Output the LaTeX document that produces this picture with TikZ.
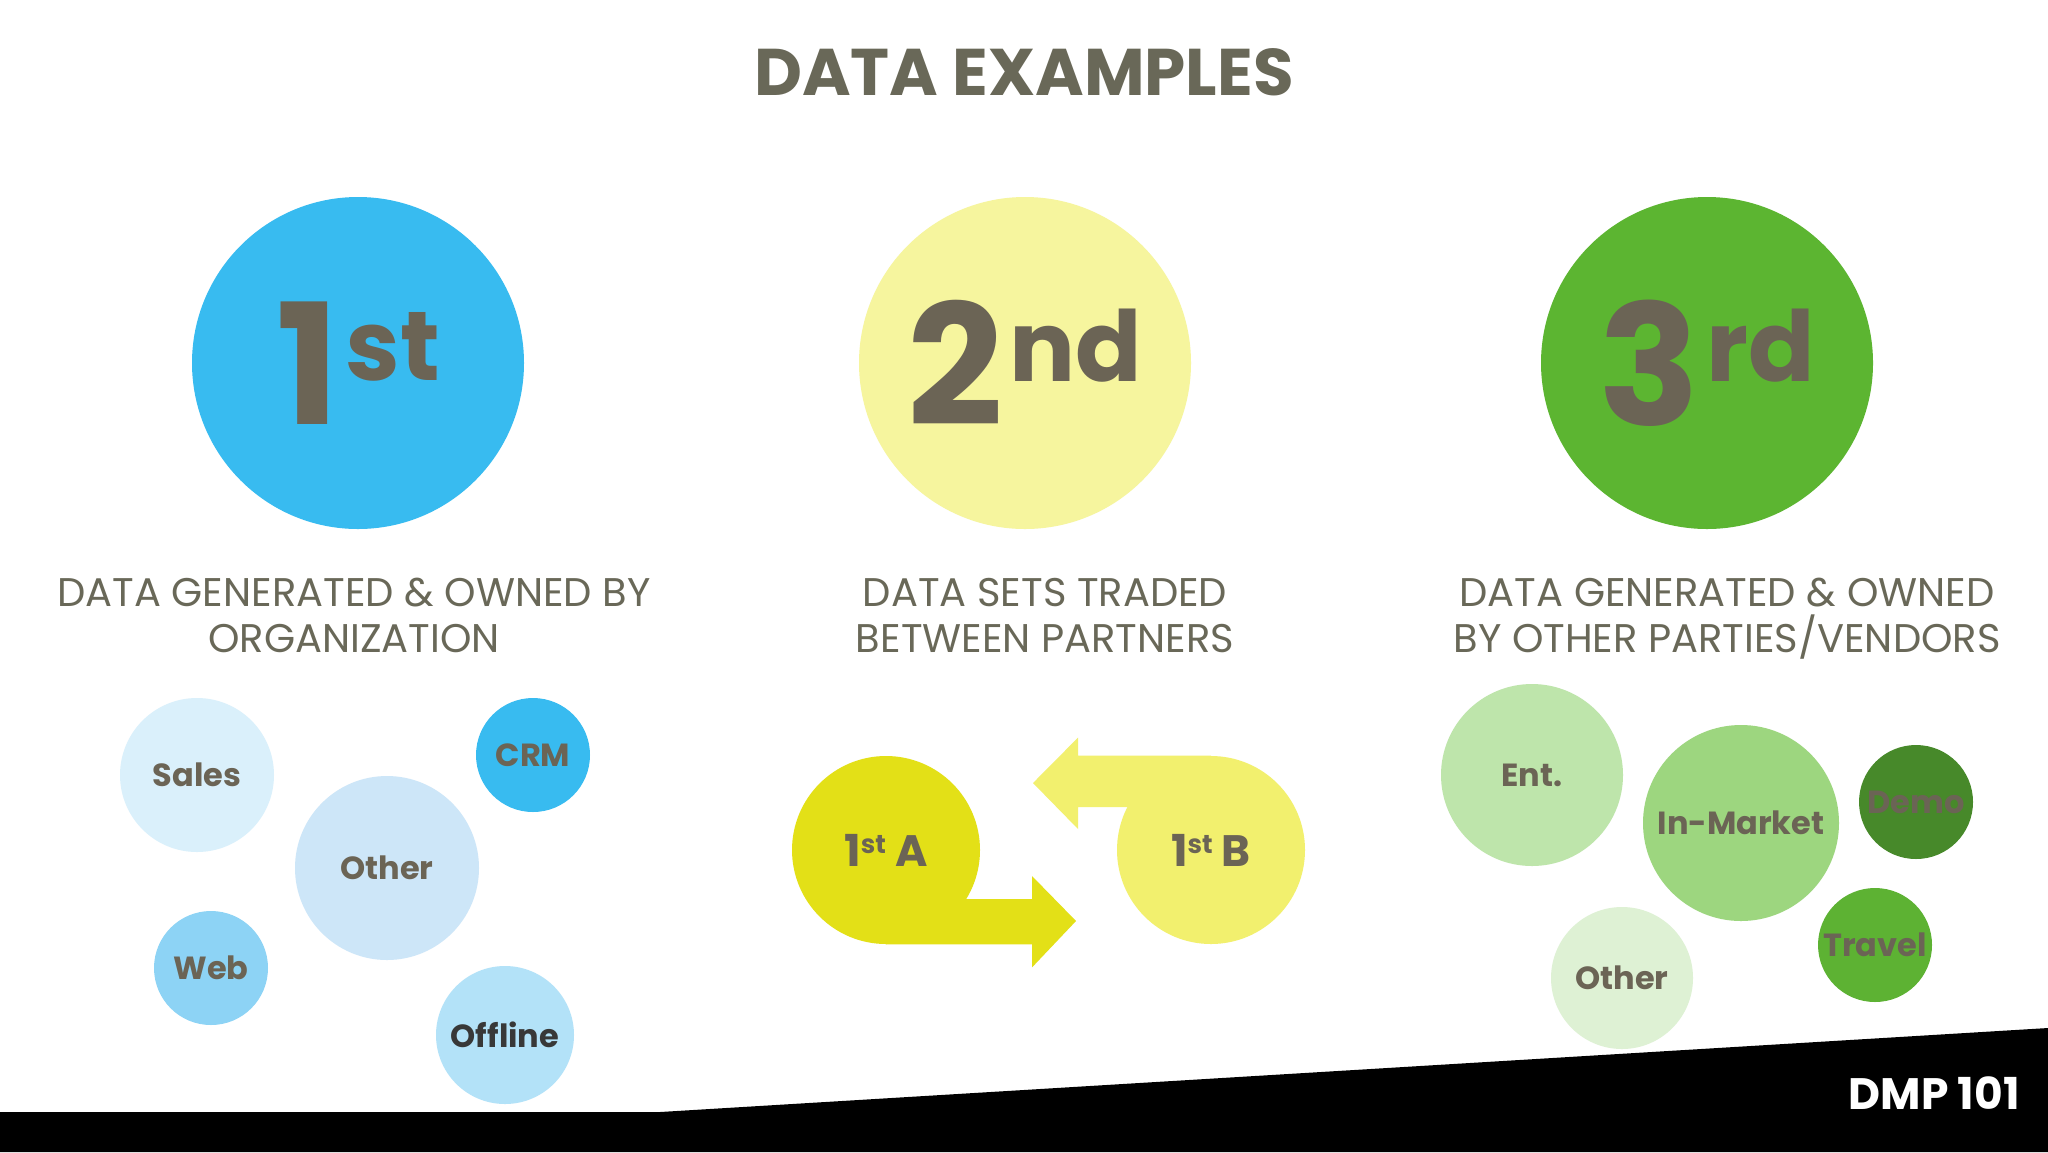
\documentclass[tikz,border=0pt]{standalone}
\usepackage{fontspec}
\setmainfont{Poppins}
\usepackage{tikz}
\usetikzlibrary{positioning}
\definecolor{txtgray}{RGB}{107,100,85}
\definecolor{titlegray}{RGB}{105,104,88}
\definecolor{firstblue}{RGB}{56,187,240}
\definecolor{secondyellow}{RGB}{246,245,158}
\definecolor{thirdgreen}{RGB}{92,181,49}
\definecolor{salesblue}{RGB}{218,240,251}
\definecolor{otherblue}{RGB}{205,230,248}
\definecolor{webblue}{RGB}{141,211,245}
\definecolor{offlineblue}{RGB}{179,226,248}
\definecolor{tradeA}{RGB}{227,224,23}
\definecolor{tradeB}{RGB}{242,240,110}
\definecolor{entgreen}{RGB}{190,229,171}
\definecolor{marketgreen}{RGB}{157,214,127}
\definecolor{demogreen}{RGB}{71,137,42}
\definecolor{travelgreen}{RGB}{93,178,51}
\definecolor{othergreen}{RGB}{222,241,212}
\newcommand{\supr}[3]{\raisebox{#1}{\fontsize{#2}{#2}\selectfont #3}}

\begin{document}
\begin{tikzpicture}[x=0.5pt, y=-0.5pt, every node/.style={inner sep=2pt},
  big/.style={circle, inner sep=0pt, text=txtgray,
    font=\fontsize{84}{84}\selectfont\bfseries},
  bubble/.style={circle, inner sep=0pt, text=txtgray,
    font=\fontsize{16}{16}\selectfont\bfseries},
  party/.style={bubble, minimum size=94pt, font=\fontsize{22}{22}\selectfont\bfseries},
  desc/.style={align=center, text=titlegray, font=\fontsize{20}{23}\selectfont}]
\useasboundingbox (0,0) rectangle (2048,1152);
\fill[white] (0,0) rectangle (2048,1152);
\node[text=titlegray, font=\fontsize{33}{33}\selectfont\bfseries] (title) at (1024,72) {DATA EXAMPLES};

% the three kinds of data
\node[big, fill=firstblue, minimum size=166pt] (first) at (358,363) {1\hspace{3pt}\supr{22pt}{49}{st}};
\node[big, fill=secondyellow, minimum size=166pt] (second) at (1025,363) {2\hspace{3pt}\supr{22pt}{49}{nd}};
\node[big, fill=thirdgreen, minimum size=166pt] (third) at (1707,363) {3\hspace{3pt}\supr{22pt}{49}{rd}};

\node[desc, below=22pt of first, xshift=-2pt] (firstdesc) {DATA GENERATED \& OWNED BY\\ORGANIZATION};
\node[desc, below=22pt of second, xshift=10pt] (seconddesc) {DATA SETS TRADED\\BETWEEN PARTNERS};
\node[desc, below=22pt of third, xshift=10pt] (thirddesc) {DATA GENERATED \& OWNED\\BY OTHER PARTIES/VENDORS};

% first party sources
\node[bubble, fill=salesblue, minimum size=77pt] (sales) at (197,775) {Sales};
\node[bubble, fill=firstblue, minimum size=57pt] (crm) at (533,755) {CRM};
\node[bubble, fill=otherblue, minimum size=92pt] (otherL) at (387,868) {Other};
\node[bubble, fill=webblue, minimum size=57pt] (web) at (211,968) {Web};
\node[bubble, fill=offlineblue, minimum size=69pt, text=black!78] (offline) at (505,1035) {Offline};

% second party exchange
\node[party, fill=tradeA] (partA) at (886,850) {1\supr{6.5pt}{13}{st}\ A};
\node[party, fill=tradeB] (partB) at (1211,850) {1\supr{6.5pt}{13}{st}\ B};
\coordinate (tipA) at (1076,921);
\coordinate (tipB) at (1033,783);
\fill[tradeA] (partA.south) -- ++(146,0) -- ++(0,23) -- (tipA) -- ++(-44,-45)
  -- ++(0,23) -- ++(-146,0) -- cycle;
\fill[tradeB] (partB.north) -- ++(-133,0) -- ++(0,-18) -- (tipB) -- ++(45,46)
  -- ++(0,-22) -- ++(133,0) -- cycle;

% third party segments
\node[bubble, fill=entgreen, minimum size=91pt] (ent) at (1532,775) {Ent.};
\node[bubble, fill=marketgreen, minimum size=98pt] (market) at (1741,823) {In-Market};
\node[bubble, fill=demogreen, minimum size=57pt] (demo) at (1916,802) {Demo};
\node[bubble, fill=travelgreen, minimum size=57pt] (travel) at (1875,945) {Travel};
\node[bubble, fill=othergreen, minimum size=71pt] (otherR) at (1622,978) {Other};

% footer band
\fill[black] (0,1112) -- (660,1112) -- (2048,1028) -- (2048,1152) -- (0,1152) -- cycle;
\node[anchor=east, text=white, font=\fontsize{22}{22}\selectfont\bfseries] (tag) at (2024,1093) {DMP 101};
\end{tikzpicture}
\end{document}
